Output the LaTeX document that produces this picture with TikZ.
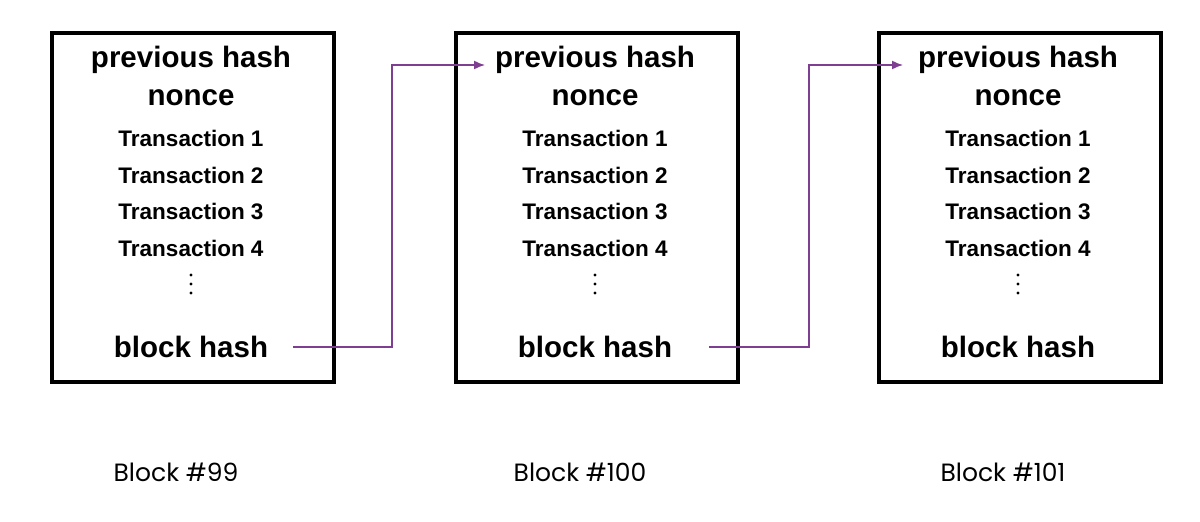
\documentclass[tikz,border=0pt]{standalone}
\usepackage{fontspec}
\setmainfont{Liberation Sans}
\newfontfamily\lblfont{Poppins}
\usetikzlibrary{arrows.meta}
\definecolor{arr}{HTML}{7E3F92}
\begin{document}
\begin{tikzpicture}[x=1pt,y=-1pt,
  blk/.style={draw,line width=4pt,minimum width=282pt,minimum height=349pt,anchor=north west},
  big/.style={font=\fontsize{29.5}{32}\selectfont\bfseries},
  tx/.style={font=\fontsize{22.5}{24}\selectfont\bfseries},
  lbl/.style={font=\lblfont\fontsize{25}{28}\selectfont},
  link/.style={draw=arr,line width=1.5pt,-{Latex[length=11pt,width=9pt]}}]
\useasboundingbox (0,0) rectangle (1200,522);
\foreach \i/\x/\n in {1/48/99,2/452/100,3/875/101}{
  \node[blk] (b\i) at (\x+2,31) {};
  \node[big] (p\i) at (\x+143,60) {previous hash};
  \node[big] (n\i) at (\x+143,98) {nonce};
  \node[tx] (ta\i) at (\x+143,138) {Transaction 1};
  \node[tx] (tb\i) at (\x+143,175) {Transaction 2};
  \node[tx] (tc\i) at (\x+143,211) {Transaction 3};
  \node[tx] (td\i) at (\x+143,248) {Transaction 4};
  \coordinate (d\i) at (\x+143,284);
  \foreach \dy in {-9,0,9} \fill ([yshift=-\dy pt]d\i) circle (1.6pt);
  \node[big] (h\i) at (\x+143,347) {block hash};
  \node[lbl] (l\i) at (\x+128,472) {Block \#\n};
}
\coordinate (s1) at (293,347);
\coordinate (s2) at (709,347);
\coordinate (e2) at (485,65);
\coordinate (e3) at (903,65);
\draw[link] (s1) -- (392,347) |- (e2);
\draw[link] (s2) -- (809,347) |- (e3);
\end{tikzpicture}
\end{document}
